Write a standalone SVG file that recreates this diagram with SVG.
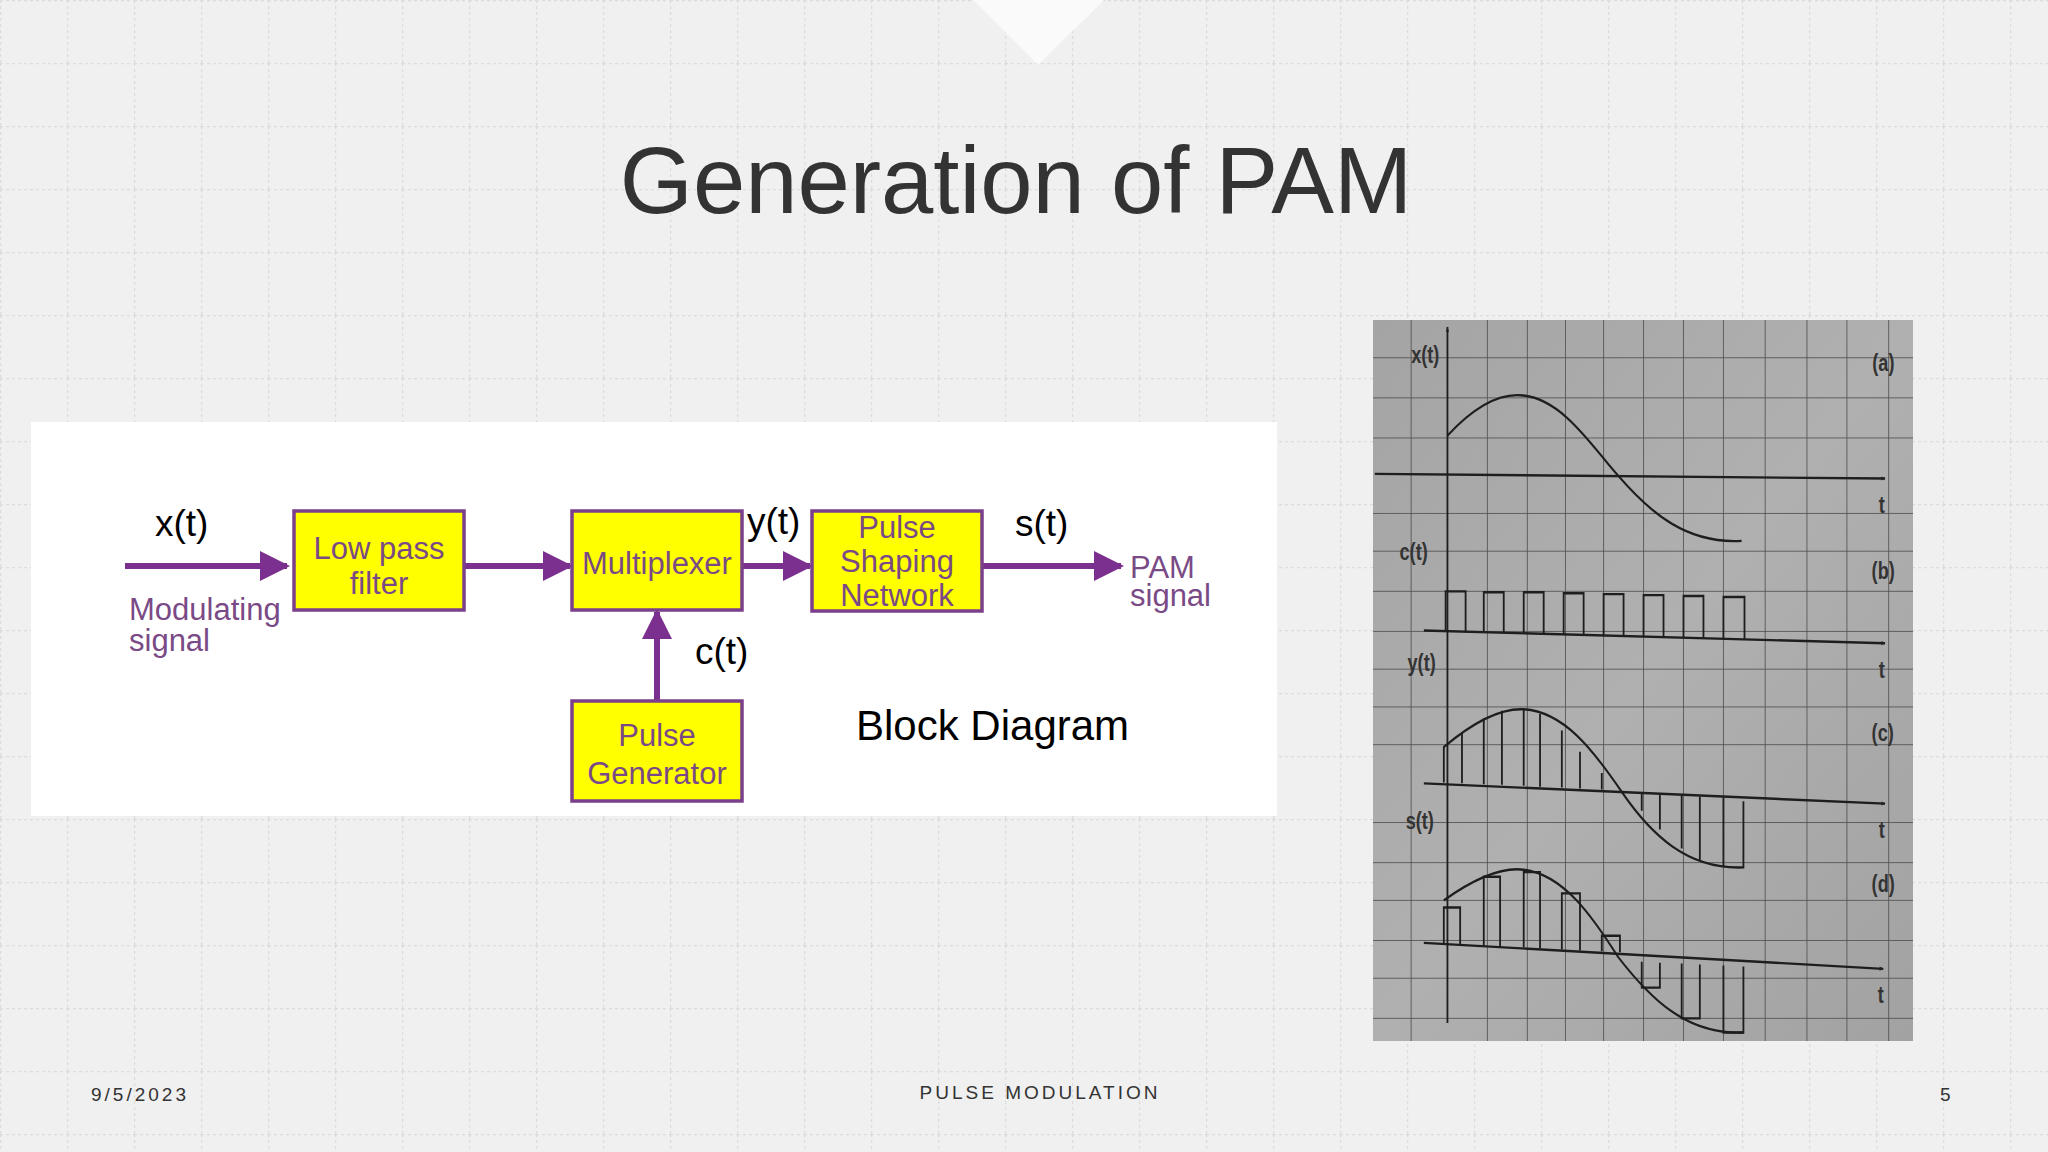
<svg xmlns="http://www.w3.org/2000/svg" width="2048" height="1152" viewBox="0 0 2048 1152">
<defs>
<pattern id="grid" width="67" height="63" patternUnits="userSpaceOnUse" x="0" y="0">
<path d="M0 0.5H67M0.5 0V63" fill="none" stroke="#dcdcdc" stroke-width="1.5" stroke-dasharray="3 3"/>
</pattern>
<marker id="ah" viewBox="0 0 10 10" refX="9" refY="5" markerWidth="5" markerHeight="5" markerUnits="strokeWidth" orient="auto"><path d="M0 0L10 5L0 10Z" fill="#7b2f8e"/></marker>
<marker id="pa" viewBox="0 0 10 10" refX="9" refY="5" markerWidth="16" markerHeight="11" markerUnits="userSpaceOnUse" orient="auto"><path d="M0 1L10 5L0 9Z" fill="#222"/></marker>
<linearGradient id="ph" x1="0" y1="0" x2="1" y2="1"><stop offset="0" stop-color="#a4a4a4"/><stop offset="0.5" stop-color="#b0b0b0"/><stop offset="1" stop-color="#a2a2a2"/></linearGradient>
</defs>
<style>
.box{fill:#ffff00;stroke:#7b3f8c;stroke-width:3.5}
.bt{font-family:"Liberation Sans",Arial,sans-serif;font-size:31px;fill:#7a4a86;text-anchor:middle}
.lab{font-family:"Liberation Sans",Arial,sans-serif;font-size:37px;fill:#000}
.con{stroke:#7b2f8e;stroke-width:6;fill:none;marker-end:url(#ah)}
.pl{fill:none;stroke:#1e1e1e;stroke-width:5;vector-effect:non-scaling-stroke}
.gl{fill:none;stroke:#4f4f4f;stroke-width:2;vector-effect:non-scaling-stroke}
.pt{font-family:"Liberation Sans",Arial,sans-serif;font-size:50px;font-weight:bold;fill:#333}
.ft{font-family:"Liberation Sans",Arial,sans-serif;font-size:19px;fill:#333;letter-spacing:3px}
</style>
<rect width="2048" height="1152" fill="#f0f0f0"/>
<rect width="2048" height="1152" fill="url(#grid)"/>
<path d="M973 0L1104 0L1038 65Z" fill="#fafafa"/>
<text x="1016" y="213" font-family="Liberation Sans,Arial,sans-serif" font-size="94" fill="#333" text-anchor="middle">Generation of PAM</text>
<rect x="31" y="422" width="1246" height="394" fill="#ffffff"/>
<g id="connectors">
<line class="con" x1="125" y1="566" x2="287" y2="566"/>
<line class="con" x1="464" y1="566" x2="570" y2="566"/>
<line class="con" x1="742" y1="566" x2="810" y2="566"/>
<line class="con" x1="982" y1="566" x2="1121" y2="566"/>
<line class="con" x1="657" y1="701" x2="657" y2="612"/>
</g>
<g id="lpf"><rect class="box" x="294" y="511" width="170" height="99"/><text class="bt" x="379" y="559">Low pass</text><text class="bt" x="379" y="594">filter</text></g>
<g id="mux"><rect class="box" x="572" y="511" width="170" height="99"/><text class="bt" x="657" y="574">Multiplexer</text></g>
<g id="psn"><rect class="box" x="812" y="511" width="170" height="100"/><text class="bt" x="897" y="538">Pulse</text><text class="bt" x="897" y="572">Shaping</text><text class="bt" x="897" y="606">Network</text></g>
<g id="pg"><rect class="box" x="572" y="701" width="170" height="100"/><text class="bt" x="657" y="746">Pulse</text><text class="bt" x="657" y="784">Generator</text></g>
<text class="lab" x="155" y="536">x(t)</text>
<text class="lab" x="747" y="534">y(t)</text>
<text class="lab" x="1015" y="536">s(t)</text>
<text class="lab" x="695" y="664">c(t)</text>
<text class="bt" x="129" y="620" style="text-anchor:start">Modulating</text>
<text class="bt" x="129" y="651" style="text-anchor:start">signal</text>
<text class="bt" x="1130" y="578" style="text-anchor:start">PAM</text>
<text class="bt" x="1130" y="606" style="text-anchor:start">signal</text>
<text x="856" y="740" font-family="Liberation Sans,Arial,sans-serif" font-size="42" fill="#000">Block Diagram</text>
<g id="graph">
<rect x="1373" y="320" width="540" height="721" fill="url(#ph)"/>
<g transform="translate(1373 320) scale(0.36315 0.47186) translate(-35 -20)">
<g class="gl">
<path d="M140 20V1548M350 20V1548M460 20V1548M565 20V1548M670 20V1548M780 20V1548M890 20V1548M1000 20V1548M1115 20V1548M1230 20V1548M1340 20V1548M1455 20V1548"/>
<path d="M35 100H1522M35 185H1522M35 270H1522M35 430H1522M35 510H1522M35 595H1522M35 680H1522M35 760H1522M35 840H1522M35 920H1522M35 1085H1522M35 1170H1522M35 1250H1522M35 1335H1522M35 1415H1522M35 1500H1522"/>
</g>
<g class="pl">
<path d="M240 1510V35" marker-end="url(#pa)"/>
<path d="M40 346L1445 356" marker-end="url(#pa)"/>
<path d="M175 678L1445 705" marker-end="url(#pa)"/>
<path d="M175 1002L1445 1045" marker-end="url(#pa)"/>
<path d="M175 1340L1440 1395" marker-end="url(#pa)"/>
<path d="M240 265C330 190 400 175 450 180C560 190 640 290 710 350C800 430 900 495 1050 488"/>
<path d="M235 680V595H290V682M340 682V597H395V684M450 684V597H505V686M560 686V599H615V688M670 688V601H725V690M780 690V603H835V692M890 692V605H945V694M1000 694V607H1058V696"/>
<path d="M230 1000V925C330 860 400 843 450 845C560 850 640 930 720 1020C800 1110 900 1185 1055 1180V1040"/>
<path d="M280 1002V895M340 1004V865M390 1005V848M450 1007V845M495 1009V855M555 1011V890M605 1013V935M665 1015V980M775 1024V1060M825 1026V1100M885 1028V1140M935 1030V1165M1000 1032V1180"/>
<path d="M230 1250C330 1195 400 1180 450 1185C560 1195 640 1285 710 1370C800 1460 900 1535 1055 1530"/>
<path d="M230 1342V1265H275V1344M340 1346V1200H385V1348M450 1350V1190H495V1352M555 1354V1235H605V1356M665 1358V1325H715V1360M775 1380V1435H825V1382M885 1384V1500H935V1386M1000 1388V1530H1055V1390"/>
</g>
<g class="pt">
<text x="140" y="112">x(t)</text><text x="1410" y="128">(a)</text><text x="1428" y="430">t</text>
<text x="108" y="528">c(t)</text><text x="1408" y="568">(b)</text><text x="1428" y="778">t</text>
<text x="130" y="763">y(t)</text><text x="1408" y="913">(c)</text><text x="1428" y="1118">t</text>
<text x="125" y="1098">s(t)</text><text x="1408" y="1233">(d)</text><text x="1425" y="1468">t</text>
</g>
</g>
</g>
<text class="ft" x="91" y="1101">9/5/2023</text>
<text class="ft" x="1040" y="1099" text-anchor="middle">PULSE MODULATION</text>
<text class="ft" x="1940" y="1101">5</text>
</svg>
